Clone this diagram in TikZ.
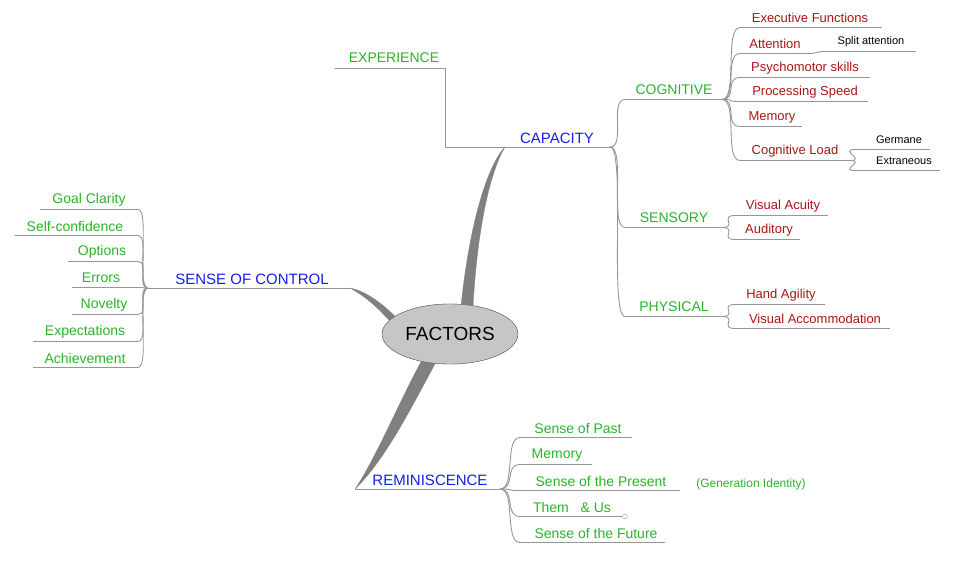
\documentclass[tikz,border=0pt]{standalone}
\usepackage{fontspec}
\setmainfont{Liberation Sans}
\usetikzlibrary{shapes.geometric}
\definecolor{gr}{RGB}{40,180,40}
\definecolor{bl}{RGB}{20,30,230}
\definecolor{rd}{RGB}{170,20,20}
\definecolor{ln}{RGB}{150,150,150}
\begin{document}
\begin{tikzpicture}[x=1pt,y=-1pt,
  lbl/.style={font=\fontsize{14}{16}\selectfont, inner sep=0pt},
  g/.style={lbl,text=gr}, b/.style={lbl,text=bl,font=\fontsize{15}{17}\selectfont},
  r/.style={lbl,text=rd,font=\fontsize{13}{15}\selectfont},
  k/.style={lbl,font=\fontsize{11}{13}\selectfont},
  ul/.style={draw=ln,line width=0.9pt},
  con/.style={draw=ln,line width=0.9pt},
  br/.style={fill=ln!85!black,draw=ln!85!black,line width=0.3pt}]
\useasboundingbox (0,0) rectangle (966,570);
% centre
\node[ellipse,draw=gray!80!black,fill=gray!45,minimum width=115,minimum height=60,
  font=\fontsize{19}{21}\selectfont] (F) at (450,334) {FACTORS};
% tapered branches
\path[br] (461,306) .. controls (470,220) and (488,165) .. (505,147)
  .. controls (492,168) and (478,220) .. (473,306) -- cycle;
\path[br] (404,326) .. controls (390,310) and (370,292) .. (350,288)
  .. controls (372,300) and (388,318) .. (400,334) -- cycle;
\path[br] (422,360) .. controls (400,400) and (375,460) .. (355,489)
  .. controls (385,460) and (410,410) .. (436,362) -- cycle;
\node[ellipse,draw=gray!80!black,fill=gray!45,minimum width=115,minimum height=60,
  font=\fontsize{19}{21}\selectfont] at (450,334) {FACTORS};
% main labels and underlines
\node[b] (cap) at (557,138) {CAPACITY};
\coordinate (capL) at (505,147); \coordinate (capR) at (610,147);
\draw[ul] (capL) -- (capR);
\node[g] (exp) at (394,58) {EXPERIENCE};
\coordinate (expL) at (335,68); \coordinate (expR) at (445,68);
\draw[ul] (expL) -- (expR) |- (capL);
\node[b] (soc) at (252,279) {SENSE OF CONTROL};
\coordinate (socL) at (148,288); \coordinate (socR) at (350,288);
\draw[ul] (socL) -- (socR);
\node[b] (rem) at (430,480) {REMINISCENCE};
\coordinate (remL) at (355,489); \coordinate (remR) at (500,489);
\draw[ul] (remL) -- (remR);
% right groups
\newcommand{\rleaf}[7]{% name, style, text, x, y, xl, xr
  \node[#2] (#1) at (#4,#5) {#3};
  \coordinate (#1L) at (#6,#5+9.5); \coordinate (#1R) at (#7,#5+9.5);
  \draw[ul] (#1L) -- (#1R);}
\newcommand{\rcon}[2]{\draw[con] (#1) .. controls +(16,0) and +(-16,0) .. (#2);}
\rleaf{cog}{g}{COGNITIVE}{674}{90}{625}{722}
\rleaf{sen}{g}{SENSORY}{674}{218}{625}{722}
\rleaf{phy}{g}{PHYSICAL}{674}{307}{625}{722}
\rcon{capR}{cogL}\rcon{capR}{senL}\rcon{capR}{phyL}
\rleaf{ef}{r}{Executive Functions}{810}{18}{740}{882}
\rleaf{at}{r}{Attention}{775}{44}{740}{812}
\rleaf{sa}{k}{Split attention}{871}{42}{822}{916}
\rleaf{ps}{r}{Psychomotor skills}{805}{68}{740}{870}
\rleaf{pr}{r}{Processing Speed}{805}{92}{740}{868}
\rleaf{me}{r}{Memory}{772}{117}{740}{802}
\rleaf{cl}{r}{Cognitive Load}{795}{151}{740}{850}
\rleaf{ge}{k}{Germane}{899}{140}{855}{930}
\rleaf{ex}{k}{Extraneous}{904}{161}{855}{940}
\foreach \c in {ef,at,ps,pr,me,cl} {\rcon{cogR}{\c L}}
\draw[con] (atR) -- (saL);
\rcon{clR}{geL}\rcon{clR}{exL}
\rleaf{va}{r}{Visual Acuity}{783}{206}{735}{828}
\rleaf{au}{r}{Auditory}{769}{230}{735}{800}
\rcon{senR}{vaL}\rcon{senR}{auL}
\rleaf{ha}{r}{Hand Agility}{781}{295}{735}{825}
\rleaf{vac}{r}{Visual Accommodation}{815}{319}{735}{890}
\rcon{phyR}{haL}\rcon{phyR}{vacL}
% reminiscence
\rleaf{sp}{g}{Sense of Past}{578}{428}{520}{632}
\rleaf{mm}{g}{Memory}{557}{455}{520}{592}
\rleaf{spr}{g}{Sense of the Present}{601}{481}{520}{680}
\node[k,text=gr,font=\fontsize{12}{14}\selectfont] (gi) at (751,484) {(Generation Identity)};
\rleaf{tu}{g}{Them \ \ \& Us}{572}{507}{520}{625}
\draw[ln,fill=white] (tuR) circle (2.5);
\rleaf{sf}{g}{Sense of the Future}{596}{533}{520}{665}
\foreach \c in {sp,mm,spr,tu,sf} {\rcon{remR}{\c L}}
% sense of control
\newcommand{\lcon}[2]{\draw[con] (#1) .. controls +(-12,0) and +(12,0) .. (#2);}
\rleaf{gc}{g}{Goal Clarity}{89}{200}{40}{138}
\rleaf{sc}{g}{Self-confidence}{75}{226}{15}{138}
\rleaf{op}{g}{Options}{102}{252}{68}{138}
\rleaf{er}{g}{Errors}{101}{278}{72}{138}
\rleaf{nv}{g}{Novelty}{104}{305}{72}{138}
\rleaf{xp}{g}{Expectations}{85}{332}{33}{138}
\rleaf{ac}{g}{Achievement}{85}{358}{33}{138}
\foreach \c in {gc,sc,op,er,nv,xp,ac} {\lcon{socL}{\c R}}
\end{tikzpicture}
\end{document}
